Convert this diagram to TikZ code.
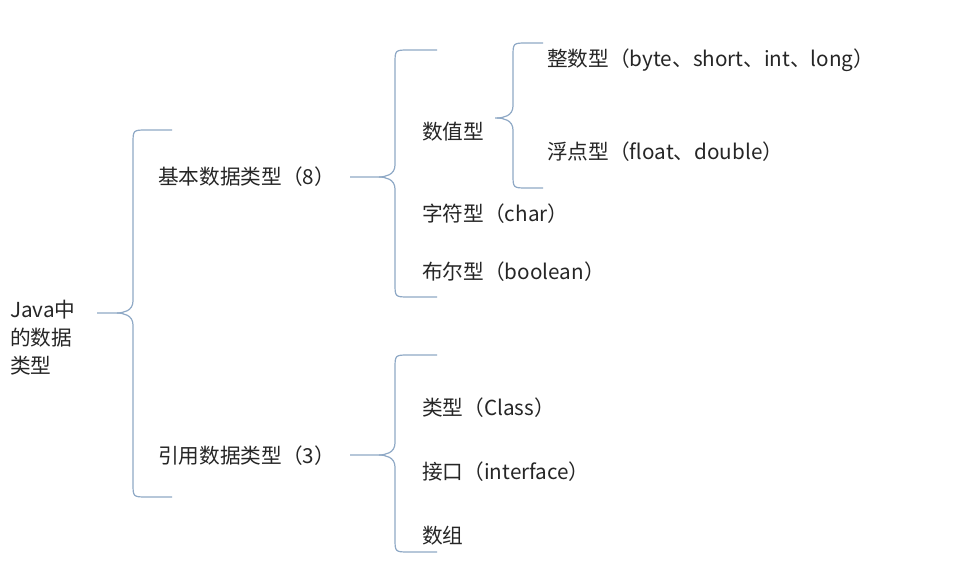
\documentclass[tikz,border=0pt]{standalone}
\usepackage{fontspec}
\setmainfont{Noto Sans CJK SC}
\newcommand\mybrace[6]{%
 \draw[bracel] (#6,#2) -- (#1+14,#2) .. controls (#1,#2) .. (#1,#2+14) -- (#1,#3-12)
  .. controls (#1,#3-2) and (#1-10,#3) .. (#1-16,#3) -- (#5,#3);
 \draw[bracel] (#1-16,#3) .. controls (#1-10,#3) and (#1,#3+2) .. (#1,#3+12) -- (#1,#4-14)
  .. controls (#1,#4) .. (#1+14,#4) -- (#6,#4);}
\definecolor{bl}{HTML}{8FA9C6}
\begin{document}
\begin{tikzpicture}[x=0.75pt,y=-0.75pt,
 bracel/.style={draw=bl,line width=0.9pt},
 lbl/.style={anchor=west,inner sep=0pt,font=\fontsize{15.5}{18}\selectfont,text=black!85}]
\useasboundingbox[fill=white] (0,0) rectangle (958,584);
\mybrace{133}{130}{313}{497}{97}{172}
\mybrace{395}{50}{177}{297}{350}{437}
\mybrace{513}{43}{118}{188}{495}{543}
\mybrace{395}{355}{455}{552}{350}{437}
\node[lbl] (j1) at (10,310) {Java中};
\node[lbl] (j2) at (10,338) {的数据};
\node[lbl] (j3) at (10,366) {类型};
\node[lbl] (basic) at (158,177) {基本数据类型（8）};
\node[lbl] (num) at (422,132) {数值型};
\node[lbl] (int) at (547,60) {整数型（byte、short、int、long）};
\node[lbl] (flt) at (547,152) {浮点型（float、double）};
\node[lbl] (chr) at (422,214) {字符型（char）};
\node[lbl] (bool) at (422,272) {布尔型（boolean）};
\node[lbl] (ref) at (158,456) {引用数据类型（3）};
\node[lbl] (cls) at (422,408) {类型（Class）};
\node[lbl] (itf) at (422,472) {接口（interface）};
\node[lbl] (arr) at (422,536) {数组};
\end{tikzpicture}
\end{document}
